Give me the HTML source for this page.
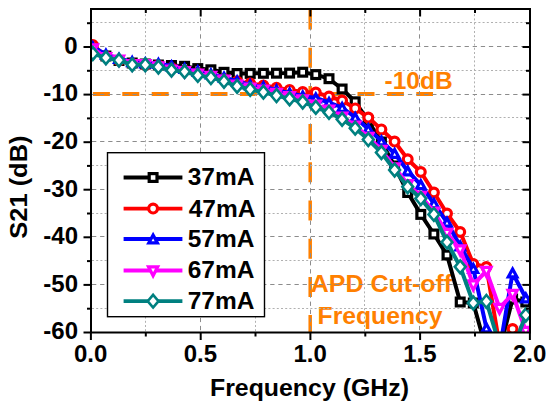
<!DOCTYPE html>
<html><head><meta charset="utf-8"><style>
html,body{margin:0;padding:0;background:#fff;width:550px;height:405px;overflow:hidden}
svg{display:block}
</style></head><body>
<svg width="550" height="405" viewBox="0 0 550 405">
<rect width="550" height="405" fill="#fff"/>
<line x1="92.9" y1="94.1" x2="433" y2="94.1" stroke="#ff8000" stroke-width="4" stroke-dasharray="17,12.4"/>
<line x1="310.2" y1="9.5" x2="310.2" y2="332" stroke="#ff8000" stroke-width="3.5" stroke-dasharray="20,18.2"/>
<text transform="translate(384.58,88.50) scale(1.0200,1)" font-family="Liberation Sans, sans-serif" font-weight="bold" font-size="24" fill="#ff8000">-10dB</text>
<text transform="translate(310.86,291.90) scale(1.0400,1)" font-family="Liberation Sans, sans-serif" font-weight="bold" font-size="24" fill="#ff8000">APD Cut-off</text>
<text transform="translate(317.54,323.60) scale(1.0300,1)" font-family="Liberation Sans, sans-serif" font-weight="bold" font-size="24" fill="#ff8000">Frequency</text>
<line x1="145.5" y1="10.0" x2="145.5" y2="331.5" stroke="#b0b0b0" stroke-width="1" stroke-dasharray="2,2.2"/>
<line x1="200.5" y1="10.0" x2="200.5" y2="331.5" stroke="#8c8c8c" stroke-width="1" stroke-dasharray="4.3,3.8"/>
<line x1="255.5" y1="10.0" x2="255.5" y2="331.5" stroke="#b0b0b0" stroke-width="1" stroke-dasharray="2,2.2"/>
<line x1="310.5" y1="10.0" x2="310.5" y2="331.5" stroke="#8c8c8c" stroke-width="1" stroke-dasharray="4.3,3.8"/>
<line x1="364.5" y1="10.0" x2="364.5" y2="331.5" stroke="#b0b0b0" stroke-width="1" stroke-dasharray="2,2.2"/>
<line x1="419.5" y1="10.0" x2="419.5" y2="331.5" stroke="#8c8c8c" stroke-width="1" stroke-dasharray="4.3,3.8"/>
<line x1="474.5" y1="10.0" x2="474.5" y2="331.5" stroke="#b0b0b0" stroke-width="1" stroke-dasharray="2,2.2"/>
<line x1="92.0" y1="22.5" x2="529.0" y2="22.5" stroke="#b0b0b0" stroke-width="1" stroke-dasharray="2,2.2"/>
<line x1="92.0" y1="46.5" x2="529.0" y2="46.5" stroke="#8c8c8c" stroke-width="1" stroke-dasharray="4.3,3.8"/>
<line x1="92.0" y1="70.5" x2="529.0" y2="70.5" stroke="#b0b0b0" stroke-width="1" stroke-dasharray="2,2.2"/>
<line x1="92.0" y1="94.5" x2="529.0" y2="94.5" stroke="#8c8c8c" stroke-width="1" stroke-dasharray="4.3,3.8"/>
<line x1="92.0" y1="117.5" x2="529.0" y2="117.5" stroke="#b0b0b0" stroke-width="1" stroke-dasharray="2,2.2"/>
<line x1="92.0" y1="141.5" x2="529.0" y2="141.5" stroke="#8c8c8c" stroke-width="1" stroke-dasharray="4.3,3.8"/>
<line x1="92.0" y1="165.5" x2="529.0" y2="165.5" stroke="#b0b0b0" stroke-width="1" stroke-dasharray="2,2.2"/>
<line x1="92.0" y1="189.5" x2="529.0" y2="189.5" stroke="#8c8c8c" stroke-width="1" stroke-dasharray="4.3,3.8"/>
<line x1="92.0" y1="213.5" x2="529.0" y2="213.5" stroke="#b0b0b0" stroke-width="1" stroke-dasharray="2,2.2"/>
<line x1="92.0" y1="236.5" x2="529.0" y2="236.5" stroke="#8c8c8c" stroke-width="1" stroke-dasharray="4.3,3.8"/>
<line x1="92.0" y1="260.5" x2="529.0" y2="260.5" stroke="#b0b0b0" stroke-width="1" stroke-dasharray="2,2.2"/>
<line x1="92.0" y1="284.5" x2="529.0" y2="284.5" stroke="#8c8c8c" stroke-width="1" stroke-dasharray="4.3,3.8"/>
<line x1="92.0" y1="308.5" x2="529.0" y2="308.5" stroke="#b0b0b0" stroke-width="1" stroke-dasharray="2,2.2"/>
<svg x="0" y="0" width="550" height="405" overflow="hidden"><defs><clipPath id="pc"><rect x="91" y="9" width="439" height="323.5"/></clipPath></defs><g clip-path="url(#pc)">
<polyline points="92.8,48.0 105.9,56.0 119.0,60.5 132.2,63.0 145.3,64.0 158.4,65.0 171.5,65.5 184.6,66.3 197.8,68.6 210.9,69.8 224.0,72.3 237.1,73.5 250.2,73.4 263.4,73.3 276.5,73.2 289.6,73.1 302.7,72.2 315.8,74.6 329.0,78.7 342.1,89.0 355.2,101.8 368.3,121.0 381.4,142.0 394.6,166.0 407.7,192.5 420.8,214.4 433.9,234.0 447.0,255.0 460.2,302.0 473.3,303.0 486.4,350.0 499.5,350.0 512.6,299.0 525.8,302.0" fill="none" stroke="#000000" stroke-width="4" stroke-linejoin="round"/>
<rect x="88.9" y="44.1" width="7.8" height="7.8" fill="#fff" stroke="#000000" stroke-width="3.2"/>
<rect x="102.0" y="52.1" width="7.8" height="7.8" fill="#fff" stroke="#000000" stroke-width="3.2"/>
<rect x="115.1" y="56.6" width="7.8" height="7.8" fill="#fff" stroke="#000000" stroke-width="3.2"/>
<rect x="128.3" y="59.1" width="7.8" height="7.8" fill="#fff" stroke="#000000" stroke-width="3.2"/>
<rect x="141.4" y="60.1" width="7.8" height="7.8" fill="#fff" stroke="#000000" stroke-width="3.2"/>
<rect x="154.5" y="61.1" width="7.8" height="7.8" fill="#fff" stroke="#000000" stroke-width="3.2"/>
<rect x="167.6" y="61.6" width="7.8" height="7.8" fill="#fff" stroke="#000000" stroke-width="3.2"/>
<rect x="180.7" y="62.4" width="7.8" height="7.8" fill="#fff" stroke="#000000" stroke-width="3.2"/>
<rect x="193.9" y="64.7" width="7.8" height="7.8" fill="#fff" stroke="#000000" stroke-width="3.2"/>
<rect x="207.0" y="65.9" width="7.8" height="7.8" fill="#fff" stroke="#000000" stroke-width="3.2"/>
<rect x="220.1" y="68.4" width="7.8" height="7.8" fill="#fff" stroke="#000000" stroke-width="3.2"/>
<rect x="233.2" y="69.6" width="7.8" height="7.8" fill="#fff" stroke="#000000" stroke-width="3.2"/>
<rect x="246.3" y="69.5" width="7.8" height="7.8" fill="#fff" stroke="#000000" stroke-width="3.2"/>
<rect x="259.5" y="69.4" width="7.8" height="7.8" fill="#fff" stroke="#000000" stroke-width="3.2"/>
<rect x="272.6" y="69.3" width="7.8" height="7.8" fill="#fff" stroke="#000000" stroke-width="3.2"/>
<rect x="285.7" y="69.2" width="7.8" height="7.8" fill="#fff" stroke="#000000" stroke-width="3.2"/>
<rect x="298.8" y="68.3" width="7.8" height="7.8" fill="#fff" stroke="#000000" stroke-width="3.2"/>
<rect x="311.9" y="70.7" width="7.8" height="7.8" fill="#fff" stroke="#000000" stroke-width="3.2"/>
<rect x="325.1" y="74.8" width="7.8" height="7.8" fill="#fff" stroke="#000000" stroke-width="3.2"/>
<rect x="338.2" y="85.1" width="7.8" height="7.8" fill="#fff" stroke="#000000" stroke-width="3.2"/>
<rect x="351.3" y="97.9" width="7.8" height="7.8" fill="#fff" stroke="#000000" stroke-width="3.2"/>
<rect x="364.4" y="117.1" width="7.8" height="7.8" fill="#fff" stroke="#000000" stroke-width="3.2"/>
<rect x="377.5" y="138.1" width="7.8" height="7.8" fill="#fff" stroke="#000000" stroke-width="3.2"/>
<rect x="390.7" y="162.1" width="7.8" height="7.8" fill="#fff" stroke="#000000" stroke-width="3.2"/>
<rect x="403.8" y="188.6" width="7.8" height="7.8" fill="#fff" stroke="#000000" stroke-width="3.2"/>
<rect x="416.9" y="210.5" width="7.8" height="7.8" fill="#fff" stroke="#000000" stroke-width="3.2"/>
<rect x="430.0" y="230.1" width="7.8" height="7.8" fill="#fff" stroke="#000000" stroke-width="3.2"/>
<rect x="443.1" y="251.1" width="7.8" height="7.8" fill="#fff" stroke="#000000" stroke-width="3.2"/>
<rect x="456.3" y="298.1" width="7.8" height="7.8" fill="#fff" stroke="#000000" stroke-width="3.2"/>
<rect x="469.4" y="299.1" width="7.8" height="7.8" fill="#fff" stroke="#000000" stroke-width="3.2"/>
<rect x="508.7" y="295.1" width="7.8" height="7.8" fill="#fff" stroke="#000000" stroke-width="3.2"/>
<rect x="521.9" y="298.1" width="7.8" height="7.8" fill="#fff" stroke="#000000" stroke-width="3.2"/>
<polyline points="92.8,45.0 105.9,56.3 119.0,60.6 132.2,63.7 145.3,65.0 158.4,65.5 171.5,68.0 184.6,70.6 197.8,73.2 210.9,76.1 224.0,79.3 237.1,81.5 250.2,83.5 263.4,85.4 276.5,87.7 289.6,89.9 302.7,92.0 315.8,92.6 329.0,96.5 342.1,100.5 355.2,108.4 368.3,117.6 381.4,129.4 394.6,141.6 407.7,159.3 420.8,172.0 433.9,192.5 447.0,213.5 460.2,232.0 473.3,264.0 486.4,267.0 499.5,345.0 512.6,329.0 525.8,350.0" fill="none" stroke="#ff0000" stroke-width="4" stroke-linejoin="round"/>
<circle cx="92.8" cy="45.0" r="4.4" fill="#fff" stroke="#ff0000" stroke-width="3.2"/>
<circle cx="105.9" cy="56.3" r="4.4" fill="#fff" stroke="#ff0000" stroke-width="3.2"/>
<circle cx="119.0" cy="60.6" r="4.4" fill="#fff" stroke="#ff0000" stroke-width="3.2"/>
<circle cx="132.2" cy="63.7" r="4.4" fill="#fff" stroke="#ff0000" stroke-width="3.2"/>
<circle cx="145.3" cy="65.0" r="4.4" fill="#fff" stroke="#ff0000" stroke-width="3.2"/>
<circle cx="158.4" cy="65.5" r="4.4" fill="#fff" stroke="#ff0000" stroke-width="3.2"/>
<circle cx="171.5" cy="68.0" r="4.4" fill="#fff" stroke="#ff0000" stroke-width="3.2"/>
<circle cx="184.6" cy="70.6" r="4.4" fill="#fff" stroke="#ff0000" stroke-width="3.2"/>
<circle cx="197.8" cy="73.2" r="4.4" fill="#fff" stroke="#ff0000" stroke-width="3.2"/>
<circle cx="210.9" cy="76.1" r="4.4" fill="#fff" stroke="#ff0000" stroke-width="3.2"/>
<circle cx="224.0" cy="79.3" r="4.4" fill="#fff" stroke="#ff0000" stroke-width="3.2"/>
<circle cx="237.1" cy="81.5" r="4.4" fill="#fff" stroke="#ff0000" stroke-width="3.2"/>
<circle cx="250.2" cy="83.5" r="4.4" fill="#fff" stroke="#ff0000" stroke-width="3.2"/>
<circle cx="263.4" cy="85.4" r="4.4" fill="#fff" stroke="#ff0000" stroke-width="3.2"/>
<circle cx="276.5" cy="87.7" r="4.4" fill="#fff" stroke="#ff0000" stroke-width="3.2"/>
<circle cx="289.6" cy="89.9" r="4.4" fill="#fff" stroke="#ff0000" stroke-width="3.2"/>
<circle cx="302.7" cy="92.0" r="4.4" fill="#fff" stroke="#ff0000" stroke-width="3.2"/>
<circle cx="315.8" cy="92.6" r="4.4" fill="#fff" stroke="#ff0000" stroke-width="3.2"/>
<circle cx="329.0" cy="96.5" r="4.4" fill="#fff" stroke="#ff0000" stroke-width="3.2"/>
<circle cx="342.1" cy="100.5" r="4.4" fill="#fff" stroke="#ff0000" stroke-width="3.2"/>
<circle cx="355.2" cy="108.4" r="4.4" fill="#fff" stroke="#ff0000" stroke-width="3.2"/>
<circle cx="368.3" cy="117.6" r="4.4" fill="#fff" stroke="#ff0000" stroke-width="3.2"/>
<circle cx="381.4" cy="129.4" r="4.4" fill="#fff" stroke="#ff0000" stroke-width="3.2"/>
<circle cx="394.6" cy="141.6" r="4.4" fill="#fff" stroke="#ff0000" stroke-width="3.2"/>
<circle cx="407.7" cy="159.3" r="4.4" fill="#fff" stroke="#ff0000" stroke-width="3.2"/>
<circle cx="420.8" cy="172.0" r="4.4" fill="#fff" stroke="#ff0000" stroke-width="3.2"/>
<circle cx="433.9" cy="192.5" r="4.4" fill="#fff" stroke="#ff0000" stroke-width="3.2"/>
<circle cx="447.0" cy="213.5" r="4.4" fill="#fff" stroke="#ff0000" stroke-width="3.2"/>
<circle cx="460.2" cy="232.0" r="4.4" fill="#fff" stroke="#ff0000" stroke-width="3.2"/>
<circle cx="473.3" cy="264.0" r="4.4" fill="#fff" stroke="#ff0000" stroke-width="3.2"/>
<circle cx="486.4" cy="267.0" r="4.4" fill="#fff" stroke="#ff0000" stroke-width="3.2"/>
<circle cx="512.6" cy="329.0" r="4.4" fill="#fff" stroke="#ff0000" stroke-width="3.2"/>
<polyline points="92.8,47.0 105.9,54.3 119.0,58.6 132.2,61.7 145.3,63.0 158.4,63.5 171.5,66.0 184.6,68.6 197.8,71.2 210.9,74.1 224.0,77.3 237.1,81.1 250.2,84.9 263.4,86.8 276.5,89.9 289.6,93.1 302.7,96.0 315.8,98.0 329.0,102.5 342.1,107.5 355.2,117.5 368.3,129.0 381.4,141.0 394.6,153.5 407.7,171.0 420.8,184.8 433.9,203.6 447.0,222.3 460.2,246.0 473.3,268.5 486.4,328.0 499.5,350.0 512.6,273.0 525.8,298.0" fill="none" stroke="#0000ff" stroke-width="4" stroke-linejoin="round"/>
<path d="M92.8,43.0 L97.1,50.9 L88.5,50.9 Z" fill="#fff" stroke="#0000ff" stroke-width="3.2" stroke-linejoin="miter"/>
<path d="M105.9,50.3 L110.2,58.2 L101.6,58.2 Z" fill="#fff" stroke="#0000ff" stroke-width="3.2" stroke-linejoin="miter"/>
<path d="M119.0,54.6 L123.3,62.5 L114.7,62.5 Z" fill="#fff" stroke="#0000ff" stroke-width="3.2" stroke-linejoin="miter"/>
<path d="M132.2,57.7 L136.5,65.6 L127.9,65.6 Z" fill="#fff" stroke="#0000ff" stroke-width="3.2" stroke-linejoin="miter"/>
<path d="M145.3,59.0 L149.6,66.9 L141.0,66.9 Z" fill="#fff" stroke="#0000ff" stroke-width="3.2" stroke-linejoin="miter"/>
<path d="M158.4,59.5 L162.7,67.4 L154.1,67.4 Z" fill="#fff" stroke="#0000ff" stroke-width="3.2" stroke-linejoin="miter"/>
<path d="M171.5,62.0 L175.8,69.9 L167.2,69.9 Z" fill="#fff" stroke="#0000ff" stroke-width="3.2" stroke-linejoin="miter"/>
<path d="M184.6,64.6 L188.9,72.5 L180.3,72.5 Z" fill="#fff" stroke="#0000ff" stroke-width="3.2" stroke-linejoin="miter"/>
<path d="M197.8,67.2 L202.1,75.1 L193.5,75.1 Z" fill="#fff" stroke="#0000ff" stroke-width="3.2" stroke-linejoin="miter"/>
<path d="M210.9,70.1 L215.2,78.0 L206.6,78.0 Z" fill="#fff" stroke="#0000ff" stroke-width="3.2" stroke-linejoin="miter"/>
<path d="M224.0,73.3 L228.3,81.2 L219.7,81.2 Z" fill="#fff" stroke="#0000ff" stroke-width="3.2" stroke-linejoin="miter"/>
<path d="M237.1,77.1 L241.4,85.0 L232.8,85.0 Z" fill="#fff" stroke="#0000ff" stroke-width="3.2" stroke-linejoin="miter"/>
<path d="M250.2,80.9 L254.5,88.8 L245.9,88.8 Z" fill="#fff" stroke="#0000ff" stroke-width="3.2" stroke-linejoin="miter"/>
<path d="M263.4,82.8 L267.7,90.7 L259.1,90.7 Z" fill="#fff" stroke="#0000ff" stroke-width="3.2" stroke-linejoin="miter"/>
<path d="M276.5,85.9 L280.8,93.8 L272.2,93.8 Z" fill="#fff" stroke="#0000ff" stroke-width="3.2" stroke-linejoin="miter"/>
<path d="M289.6,89.1 L293.9,97.0 L285.3,97.0 Z" fill="#fff" stroke="#0000ff" stroke-width="3.2" stroke-linejoin="miter"/>
<path d="M302.7,92.0 L307.0,99.9 L298.4,99.9 Z" fill="#fff" stroke="#0000ff" stroke-width="3.2" stroke-linejoin="miter"/>
<path d="M315.8,94.0 L320.1,101.9 L311.5,101.9 Z" fill="#fff" stroke="#0000ff" stroke-width="3.2" stroke-linejoin="miter"/>
<path d="M329.0,98.5 L333.3,106.4 L324.7,106.4 Z" fill="#fff" stroke="#0000ff" stroke-width="3.2" stroke-linejoin="miter"/>
<path d="M342.1,103.5 L346.4,111.4 L337.8,111.4 Z" fill="#fff" stroke="#0000ff" stroke-width="3.2" stroke-linejoin="miter"/>
<path d="M355.2,113.5 L359.5,121.4 L350.9,121.4 Z" fill="#fff" stroke="#0000ff" stroke-width="3.2" stroke-linejoin="miter"/>
<path d="M368.3,125.0 L372.6,132.9 L364.0,132.9 Z" fill="#fff" stroke="#0000ff" stroke-width="3.2" stroke-linejoin="miter"/>
<path d="M381.4,137.0 L385.7,144.9 L377.1,144.9 Z" fill="#fff" stroke="#0000ff" stroke-width="3.2" stroke-linejoin="miter"/>
<path d="M394.6,149.5 L398.9,157.4 L390.3,157.4 Z" fill="#fff" stroke="#0000ff" stroke-width="3.2" stroke-linejoin="miter"/>
<path d="M407.7,167.0 L412.0,174.9 L403.4,174.9 Z" fill="#fff" stroke="#0000ff" stroke-width="3.2" stroke-linejoin="miter"/>
<path d="M420.8,180.8 L425.1,188.7 L416.5,188.7 Z" fill="#fff" stroke="#0000ff" stroke-width="3.2" stroke-linejoin="miter"/>
<path d="M433.9,199.6 L438.2,207.5 L429.6,207.5 Z" fill="#fff" stroke="#0000ff" stroke-width="3.2" stroke-linejoin="miter"/>
<path d="M447.0,218.3 L451.3,226.2 L442.7,226.2 Z" fill="#fff" stroke="#0000ff" stroke-width="3.2" stroke-linejoin="miter"/>
<path d="M460.2,242.0 L464.5,249.9 L455.9,249.9 Z" fill="#fff" stroke="#0000ff" stroke-width="3.2" stroke-linejoin="miter"/>
<path d="M473.3,264.5 L477.6,272.4 L469.0,272.4 Z" fill="#fff" stroke="#0000ff" stroke-width="3.2" stroke-linejoin="miter"/>
<path d="M486.4,324.0 L490.7,331.9 L482.1,331.9 Z" fill="#fff" stroke="#0000ff" stroke-width="3.2" stroke-linejoin="miter"/>
<path d="M512.6,269.0 L516.9,276.9 L508.3,276.9 Z" fill="#fff" stroke="#0000ff" stroke-width="3.2" stroke-linejoin="miter"/>
<path d="M525.8,294.0 L530.1,301.9 L521.5,301.9 Z" fill="#fff" stroke="#0000ff" stroke-width="3.2" stroke-linejoin="miter"/>
<polyline points="92.8,48.5 105.9,57.3 119.0,59.7 132.2,64.3 145.3,64.3 158.4,66.5 171.5,69.7 184.6,71.2 197.8,73.9 210.9,76.1 224.0,79.8 237.1,84.8 250.2,87.9 263.4,89.7 276.5,93.1 289.6,96.3 302.7,99.5 315.8,104.9 329.0,109.9 342.1,116.8 355.2,125.7 368.3,137.1 381.4,150.0 394.6,167.5 407.7,184.3 420.8,196.1 433.9,211.9 447.0,233.0 460.2,249.6 473.3,284.6 486.4,271.0 499.5,308.0 512.6,294.0 525.8,331.0" fill="none" stroke="#ff00ff" stroke-width="4" stroke-linejoin="round"/>
<path d="M92.8,53.8 L97.4,44.8 L88.2,44.8 Z" fill="#fff" stroke="#ff00ff" stroke-width="3.2" stroke-linejoin="miter"/>
<path d="M105.9,62.6 L110.5,53.6 L101.3,53.6 Z" fill="#fff" stroke="#ff00ff" stroke-width="3.2" stroke-linejoin="miter"/>
<path d="M119.0,65.0 L123.6,56.0 L114.4,56.0 Z" fill="#fff" stroke="#ff00ff" stroke-width="3.2" stroke-linejoin="miter"/>
<path d="M132.2,69.6 L136.8,60.6 L127.6,60.6 Z" fill="#fff" stroke="#ff00ff" stroke-width="3.2" stroke-linejoin="miter"/>
<path d="M145.3,69.6 L149.9,60.6 L140.7,60.6 Z" fill="#fff" stroke="#ff00ff" stroke-width="3.2" stroke-linejoin="miter"/>
<path d="M158.4,71.8 L163.0,62.8 L153.8,62.8 Z" fill="#fff" stroke="#ff00ff" stroke-width="3.2" stroke-linejoin="miter"/>
<path d="M171.5,75.0 L176.1,66.0 L166.9,66.0 Z" fill="#fff" stroke="#ff00ff" stroke-width="3.2" stroke-linejoin="miter"/>
<path d="M184.6,76.5 L189.2,67.5 L180.0,67.5 Z" fill="#fff" stroke="#ff00ff" stroke-width="3.2" stroke-linejoin="miter"/>
<path d="M197.8,79.2 L202.4,70.2 L193.2,70.2 Z" fill="#fff" stroke="#ff00ff" stroke-width="3.2" stroke-linejoin="miter"/>
<path d="M210.9,81.4 L215.5,72.4 L206.3,72.4 Z" fill="#fff" stroke="#ff00ff" stroke-width="3.2" stroke-linejoin="miter"/>
<path d="M224.0,85.1 L228.6,76.1 L219.4,76.1 Z" fill="#fff" stroke="#ff00ff" stroke-width="3.2" stroke-linejoin="miter"/>
<path d="M237.1,90.1 L241.7,81.1 L232.5,81.1 Z" fill="#fff" stroke="#ff00ff" stroke-width="3.2" stroke-linejoin="miter"/>
<path d="M250.2,93.2 L254.8,84.2 L245.6,84.2 Z" fill="#fff" stroke="#ff00ff" stroke-width="3.2" stroke-linejoin="miter"/>
<path d="M263.4,95.0 L268.0,86.0 L258.8,86.0 Z" fill="#fff" stroke="#ff00ff" stroke-width="3.2" stroke-linejoin="miter"/>
<path d="M276.5,98.4 L281.1,89.4 L271.9,89.4 Z" fill="#fff" stroke="#ff00ff" stroke-width="3.2" stroke-linejoin="miter"/>
<path d="M289.6,101.6 L294.2,92.6 L285.0,92.6 Z" fill="#fff" stroke="#ff00ff" stroke-width="3.2" stroke-linejoin="miter"/>
<path d="M302.7,104.8 L307.3,95.8 L298.1,95.8 Z" fill="#fff" stroke="#ff00ff" stroke-width="3.2" stroke-linejoin="miter"/>
<path d="M315.8,110.2 L320.4,101.2 L311.2,101.2 Z" fill="#fff" stroke="#ff00ff" stroke-width="3.2" stroke-linejoin="miter"/>
<path d="M329.0,115.2 L333.6,106.2 L324.4,106.2 Z" fill="#fff" stroke="#ff00ff" stroke-width="3.2" stroke-linejoin="miter"/>
<path d="M342.1,122.1 L346.7,113.1 L337.5,113.1 Z" fill="#fff" stroke="#ff00ff" stroke-width="3.2" stroke-linejoin="miter"/>
<path d="M355.2,131.0 L359.8,122.0 L350.6,122.0 Z" fill="#fff" stroke="#ff00ff" stroke-width="3.2" stroke-linejoin="miter"/>
<path d="M368.3,142.4 L372.9,133.4 L363.7,133.4 Z" fill="#fff" stroke="#ff00ff" stroke-width="3.2" stroke-linejoin="miter"/>
<path d="M381.4,155.3 L386.0,146.3 L376.8,146.3 Z" fill="#fff" stroke="#ff00ff" stroke-width="3.2" stroke-linejoin="miter"/>
<path d="M394.6,172.8 L399.2,163.8 L390.0,163.8 Z" fill="#fff" stroke="#ff00ff" stroke-width="3.2" stroke-linejoin="miter"/>
<path d="M407.7,189.6 L412.3,180.6 L403.1,180.6 Z" fill="#fff" stroke="#ff00ff" stroke-width="3.2" stroke-linejoin="miter"/>
<path d="M420.8,201.4 L425.4,192.4 L416.2,192.4 Z" fill="#fff" stroke="#ff00ff" stroke-width="3.2" stroke-linejoin="miter"/>
<path d="M433.9,217.2 L438.5,208.2 L429.3,208.2 Z" fill="#fff" stroke="#ff00ff" stroke-width="3.2" stroke-linejoin="miter"/>
<path d="M447.0,238.3 L451.6,229.3 L442.4,229.3 Z" fill="#fff" stroke="#ff00ff" stroke-width="3.2" stroke-linejoin="miter"/>
<path d="M460.2,254.9 L464.8,245.9 L455.6,245.9 Z" fill="#fff" stroke="#ff00ff" stroke-width="3.2" stroke-linejoin="miter"/>
<path d="M473.3,289.9 L477.9,280.9 L468.7,280.9 Z" fill="#fff" stroke="#ff00ff" stroke-width="3.2" stroke-linejoin="miter"/>
<path d="M486.4,276.3 L491.0,267.3 L481.8,267.3 Z" fill="#fff" stroke="#ff00ff" stroke-width="3.2" stroke-linejoin="miter"/>
<path d="M499.5,313.3 L504.1,304.3 L494.9,304.3 Z" fill="#fff" stroke="#ff00ff" stroke-width="3.2" stroke-linejoin="miter"/>
<path d="M512.6,299.3 L517.2,290.3 L508.0,290.3 Z" fill="#fff" stroke="#ff00ff" stroke-width="3.2" stroke-linejoin="miter"/>
<path d="M525.8,336.3 L530.4,327.3 L521.2,327.3 Z" fill="#fff" stroke="#ff00ff" stroke-width="3.2" stroke-linejoin="miter"/>
<polyline points="92.8,53.5 105.9,57.8 119.0,60.2 132.2,64.8 145.3,64.8 158.4,67.0 171.5,70.2 184.6,71.7 197.8,75.4 210.9,77.6 224.0,81.3 237.1,86.3 250.2,89.4 263.4,92.2 276.5,95.6 289.6,98.8 302.7,102.0 315.8,107.4 329.0,112.4 342.1,119.3 355.2,128.2 368.3,139.6 381.4,152.5 394.6,170.0 407.7,186.8 420.8,198.6 433.9,214.4 447.0,242.2 460.2,266.8 473.3,303.0 486.4,301.4 499.5,345.0 512.6,350.0 525.8,315.0" fill="none" stroke="#008080" stroke-width="4" stroke-linejoin="round"/>
<path d="M92.8,47.1 L98.2,53.5 L92.8,59.9 L87.4,53.5 Z" fill="#fff" stroke="#008080" stroke-width="2.6" stroke-linejoin="miter"/>
<path d="M105.9,51.4 L111.3,57.8 L105.9,64.2 L100.5,57.8 Z" fill="#fff" stroke="#008080" stroke-width="2.6" stroke-linejoin="miter"/>
<path d="M119.0,53.8 L124.4,60.2 L119.0,66.6 L113.6,60.2 Z" fill="#fff" stroke="#008080" stroke-width="2.6" stroke-linejoin="miter"/>
<path d="M132.2,58.4 L137.6,64.8 L132.2,71.2 L126.8,64.8 Z" fill="#fff" stroke="#008080" stroke-width="2.6" stroke-linejoin="miter"/>
<path d="M145.3,58.4 L150.7,64.8 L145.3,71.2 L139.9,64.8 Z" fill="#fff" stroke="#008080" stroke-width="2.6" stroke-linejoin="miter"/>
<path d="M158.4,60.6 L163.8,67.0 L158.4,73.4 L153.0,67.0 Z" fill="#fff" stroke="#008080" stroke-width="2.6" stroke-linejoin="miter"/>
<path d="M171.5,63.8 L176.9,70.2 L171.5,76.6 L166.1,70.2 Z" fill="#fff" stroke="#008080" stroke-width="2.6" stroke-linejoin="miter"/>
<path d="M184.6,65.3 L190.0,71.7 L184.6,78.1 L179.2,71.7 Z" fill="#fff" stroke="#008080" stroke-width="2.6" stroke-linejoin="miter"/>
<path d="M197.8,69.0 L203.2,75.4 L197.8,81.8 L192.4,75.4 Z" fill="#fff" stroke="#008080" stroke-width="2.6" stroke-linejoin="miter"/>
<path d="M210.9,71.2 L216.3,77.6 L210.9,84.0 L205.5,77.6 Z" fill="#fff" stroke="#008080" stroke-width="2.6" stroke-linejoin="miter"/>
<path d="M224.0,74.9 L229.4,81.3 L224.0,87.7 L218.6,81.3 Z" fill="#fff" stroke="#008080" stroke-width="2.6" stroke-linejoin="miter"/>
<path d="M237.1,79.9 L242.5,86.3 L237.1,92.7 L231.7,86.3 Z" fill="#fff" stroke="#008080" stroke-width="2.6" stroke-linejoin="miter"/>
<path d="M250.2,83.0 L255.6,89.4 L250.2,95.8 L244.8,89.4 Z" fill="#fff" stroke="#008080" stroke-width="2.6" stroke-linejoin="miter"/>
<path d="M263.4,85.8 L268.8,92.2 L263.4,98.6 L258.0,92.2 Z" fill="#fff" stroke="#008080" stroke-width="2.6" stroke-linejoin="miter"/>
<path d="M276.5,89.2 L281.9,95.6 L276.5,102.0 L271.1,95.6 Z" fill="#fff" stroke="#008080" stroke-width="2.6" stroke-linejoin="miter"/>
<path d="M289.6,92.4 L295.0,98.8 L289.6,105.2 L284.2,98.8 Z" fill="#fff" stroke="#008080" stroke-width="2.6" stroke-linejoin="miter"/>
<path d="M302.7,95.6 L308.1,102.0 L302.7,108.4 L297.3,102.0 Z" fill="#fff" stroke="#008080" stroke-width="2.6" stroke-linejoin="miter"/>
<path d="M315.8,101.0 L321.2,107.4 L315.8,113.8 L310.4,107.4 Z" fill="#fff" stroke="#008080" stroke-width="2.6" stroke-linejoin="miter"/>
<path d="M329.0,106.0 L334.4,112.4 L329.0,118.8 L323.6,112.4 Z" fill="#fff" stroke="#008080" stroke-width="2.6" stroke-linejoin="miter"/>
<path d="M342.1,112.9 L347.5,119.3 L342.1,125.7 L336.7,119.3 Z" fill="#fff" stroke="#008080" stroke-width="2.6" stroke-linejoin="miter"/>
<path d="M355.2,121.8 L360.6,128.2 L355.2,134.6 L349.8,128.2 Z" fill="#fff" stroke="#008080" stroke-width="2.6" stroke-linejoin="miter"/>
<path d="M368.3,133.2 L373.7,139.6 L368.3,146.0 L362.9,139.6 Z" fill="#fff" stroke="#008080" stroke-width="2.6" stroke-linejoin="miter"/>
<path d="M381.4,146.1 L386.8,152.5 L381.4,158.9 L376.0,152.5 Z" fill="#fff" stroke="#008080" stroke-width="2.6" stroke-linejoin="miter"/>
<path d="M394.6,163.6 L400.0,170.0 L394.6,176.4 L389.2,170.0 Z" fill="#fff" stroke="#008080" stroke-width="2.6" stroke-linejoin="miter"/>
<path d="M407.7,180.4 L413.1,186.8 L407.7,193.2 L402.3,186.8 Z" fill="#fff" stroke="#008080" stroke-width="2.6" stroke-linejoin="miter"/>
<path d="M420.8,192.2 L426.2,198.6 L420.8,205.0 L415.4,198.6 Z" fill="#fff" stroke="#008080" stroke-width="2.6" stroke-linejoin="miter"/>
<path d="M433.9,208.0 L439.3,214.4 L433.9,220.8 L428.5,214.4 Z" fill="#fff" stroke="#008080" stroke-width="2.6" stroke-linejoin="miter"/>
<path d="M447.0,235.8 L452.4,242.2 L447.0,248.6 L441.6,242.2 Z" fill="#fff" stroke="#008080" stroke-width="2.6" stroke-linejoin="miter"/>
<path d="M460.2,260.4 L465.6,266.8 L460.2,273.2 L454.8,266.8 Z" fill="#fff" stroke="#008080" stroke-width="2.6" stroke-linejoin="miter"/>
<path d="M473.3,296.6 L478.7,303.0 L473.3,309.4 L467.9,303.0 Z" fill="#fff" stroke="#008080" stroke-width="2.6" stroke-linejoin="miter"/>
<path d="M486.4,295.0 L491.8,301.4 L486.4,307.8 L481.0,301.4 Z" fill="#fff" stroke="#008080" stroke-width="2.6" stroke-linejoin="miter"/>
<path d="M525.8,308.6 L531.2,315.0 L525.8,321.4 L520.4,315.0 Z" fill="#fff" stroke="#008080" stroke-width="2.6" stroke-linejoin="miter"/>
</g></svg>
<rect x="91" y="9" width="439" height="323.5" fill="none" stroke="#000" stroke-width="2"/>
<line x1="90.9" y1="332.5" x2="90.9" y2="340.0" stroke="#000" stroke-width="2"/>
<line x1="145.8" y1="332.5" x2="145.8" y2="336.5" stroke="#000" stroke-width="2"/>
<line x1="145.8" y1="9.0" x2="145.8" y2="13.0" stroke="#000" stroke-width="2"/>
<line x1="200.7" y1="332.5" x2="200.7" y2="340.0" stroke="#000" stroke-width="2"/>
<line x1="200.7" y1="9.0" x2="200.7" y2="16.5" stroke="#000" stroke-width="2"/>
<line x1="255.5" y1="332.5" x2="255.5" y2="336.5" stroke="#000" stroke-width="2"/>
<line x1="255.5" y1="9.0" x2="255.5" y2="13.0" stroke="#000" stroke-width="2"/>
<line x1="310.4" y1="332.5" x2="310.4" y2="340.0" stroke="#000" stroke-width="2"/>
<line x1="310.4" y1="9.0" x2="310.4" y2="16.5" stroke="#000" stroke-width="2"/>
<line x1="365.3" y1="332.5" x2="365.3" y2="336.5" stroke="#000" stroke-width="2"/>
<line x1="365.3" y1="9.0" x2="365.3" y2="13.0" stroke="#000" stroke-width="2"/>
<line x1="420.1" y1="332.5" x2="420.1" y2="340.0" stroke="#000" stroke-width="2"/>
<line x1="420.1" y1="9.0" x2="420.1" y2="16.5" stroke="#000" stroke-width="2"/>
<line x1="475.0" y1="332.5" x2="475.0" y2="336.5" stroke="#000" stroke-width="2"/>
<line x1="475.0" y1="9.0" x2="475.0" y2="13.0" stroke="#000" stroke-width="2"/>
<line x1="529.9" y1="332.5" x2="529.9" y2="340.0" stroke="#000" stroke-width="2"/>
<line x1="87.0" y1="23.2" x2="91.0" y2="23.2" stroke="#000" stroke-width="2"/>
<line x1="526.0" y1="23.2" x2="530.0" y2="23.2" stroke="#000" stroke-width="2"/>
<line x1="83.5" y1="47.0" x2="91.0" y2="47.0" stroke="#000" stroke-width="2"/>
<line x1="522.5" y1="47.0" x2="530.0" y2="47.0" stroke="#000" stroke-width="2"/>
<line x1="87.0" y1="70.8" x2="91.0" y2="70.8" stroke="#000" stroke-width="2"/>
<line x1="526.0" y1="70.8" x2="530.0" y2="70.8" stroke="#000" stroke-width="2"/>
<line x1="83.5" y1="94.6" x2="91.0" y2="94.6" stroke="#000" stroke-width="2"/>
<line x1="522.5" y1="94.6" x2="530.0" y2="94.6" stroke="#000" stroke-width="2"/>
<line x1="87.0" y1="118.4" x2="91.0" y2="118.4" stroke="#000" stroke-width="2"/>
<line x1="526.0" y1="118.4" x2="530.0" y2="118.4" stroke="#000" stroke-width="2"/>
<line x1="83.5" y1="142.2" x2="91.0" y2="142.2" stroke="#000" stroke-width="2"/>
<line x1="522.5" y1="142.2" x2="530.0" y2="142.2" stroke="#000" stroke-width="2"/>
<line x1="87.0" y1="165.9" x2="91.0" y2="165.9" stroke="#000" stroke-width="2"/>
<line x1="526.0" y1="165.9" x2="530.0" y2="165.9" stroke="#000" stroke-width="2"/>
<line x1="83.5" y1="189.7" x2="91.0" y2="189.7" stroke="#000" stroke-width="2"/>
<line x1="522.5" y1="189.7" x2="530.0" y2="189.7" stroke="#000" stroke-width="2"/>
<line x1="87.0" y1="213.5" x2="91.0" y2="213.5" stroke="#000" stroke-width="2"/>
<line x1="526.0" y1="213.5" x2="530.0" y2="213.5" stroke="#000" stroke-width="2"/>
<line x1="83.5" y1="237.3" x2="91.0" y2="237.3" stroke="#000" stroke-width="2"/>
<line x1="522.5" y1="237.3" x2="530.0" y2="237.3" stroke="#000" stroke-width="2"/>
<line x1="87.0" y1="261.1" x2="91.0" y2="261.1" stroke="#000" stroke-width="2"/>
<line x1="526.0" y1="261.1" x2="530.0" y2="261.1" stroke="#000" stroke-width="2"/>
<line x1="83.5" y1="284.9" x2="91.0" y2="284.9" stroke="#000" stroke-width="2"/>
<line x1="522.5" y1="284.9" x2="530.0" y2="284.9" stroke="#000" stroke-width="2"/>
<line x1="87.0" y1="308.7" x2="91.0" y2="308.7" stroke="#000" stroke-width="2"/>
<line x1="526.0" y1="308.7" x2="530.0" y2="308.7" stroke="#000" stroke-width="2"/>
<line x1="83.5" y1="332.5" x2="91.0" y2="332.5" stroke="#000" stroke-width="2"/>
<text transform="translate(74.00,362.30) scale(1.0000,1)" font-family="Liberation Sans, sans-serif" font-weight="bold" font-size="24" fill="#000">0.0</text>
<text transform="translate(183.75,362.30) scale(1.0000,1)" font-family="Liberation Sans, sans-serif" font-weight="bold" font-size="24" fill="#000">0.5</text>
<text transform="translate(293.50,362.30) scale(1.0000,1)" font-family="Liberation Sans, sans-serif" font-weight="bold" font-size="24" fill="#000">1.0</text>
<text transform="translate(403.25,362.30) scale(1.0000,1)" font-family="Liberation Sans, sans-serif" font-weight="bold" font-size="24" fill="#000">1.5</text>
<text transform="translate(513.00,362.30) scale(1.0000,1)" font-family="Liberation Sans, sans-serif" font-weight="bold" font-size="24" fill="#000">2.0</text>
<text transform="translate(64.30,53.80) scale(1.0000,1)" font-family="Liberation Sans, sans-serif" font-weight="bold" font-size="24" fill="#000">0</text>
<text transform="translate(43.30,101.38) scale(1.0000,1)" font-family="Liberation Sans, sans-serif" font-weight="bold" font-size="24" fill="#000">-10</text>
<text transform="translate(43.30,148.96) scale(1.0000,1)" font-family="Liberation Sans, sans-serif" font-weight="bold" font-size="24" fill="#000">-20</text>
<text transform="translate(43.30,196.54) scale(1.0000,1)" font-family="Liberation Sans, sans-serif" font-weight="bold" font-size="24" fill="#000">-30</text>
<text transform="translate(43.30,244.12) scale(1.0000,1)" font-family="Liberation Sans, sans-serif" font-weight="bold" font-size="24" fill="#000">-40</text>
<text transform="translate(43.30,291.70) scale(1.0000,1)" font-family="Liberation Sans, sans-serif" font-weight="bold" font-size="24" fill="#000">-50</text>
<text transform="translate(43.30,339.28) scale(1.0000,1)" font-family="Liberation Sans, sans-serif" font-weight="bold" font-size="24" fill="#000">-60</text>
<text transform="translate(209.93,395.60) scale(1.0370,1)" font-family="Liberation Sans, sans-serif" font-weight="bold" font-size="24" fill="#000">Frequency (GHz)</text>
<text transform="translate(26.8,238.66) rotate(-90) scale(1.0600,1)" font-family="Liberation Sans, sans-serif" font-weight="bold" font-size="24" fill="#000">S21 (dB)</text>
<rect x="107.5" y="152.7" width="157" height="164" fill="#fff" stroke="#000" stroke-width="1.4"/>
<line x1="123.6" y1="177.5" x2="182.4" y2="177.5" stroke="#000000" stroke-width="3.8"/>
<rect x="149.2" y="173.6" width="7.8" height="7.8" fill="#fff" stroke="#000000" stroke-width="3.2"/>
<text transform="translate(187.68,185.40) scale(1.0200,1)" font-family="Liberation Sans, sans-serif" font-weight="bold" font-size="24" fill="#000">37mA</text>
<line x1="123.6" y1="208.6" x2="182.4" y2="208.6" stroke="#ff0000" stroke-width="3.8"/>
<circle cx="153.1" cy="208.6" r="4.4" fill="#fff" stroke="#ff0000" stroke-width="3.2"/>
<text transform="translate(188.70,216.50) scale(1.0200,1)" font-family="Liberation Sans, sans-serif" font-weight="bold" font-size="24" fill="#000">47mA</text>
<line x1="123.6" y1="239.0" x2="182.4" y2="239.0" stroke="#0000ff" stroke-width="3.8"/>
<path d="M153.1,235.0 L157.4,242.9 L148.8,242.9 Z" fill="#fff" stroke="#0000ff" stroke-width="3.2" stroke-linejoin="miter"/>
<text transform="translate(187.68,246.90) scale(1.0200,1)" font-family="Liberation Sans, sans-serif" font-weight="bold" font-size="24" fill="#000">57mA</text>
<line x1="123.6" y1="270.5" x2="182.4" y2="270.5" stroke="#ff00ff" stroke-width="3.8"/>
<path d="M153.1,275.8 L157.7,266.8 L148.5,266.8 Z" fill="#fff" stroke="#ff00ff" stroke-width="3.2" stroke-linejoin="miter"/>
<text transform="translate(187.68,278.40) scale(1.0200,1)" font-family="Liberation Sans, sans-serif" font-weight="bold" font-size="24" fill="#000">67mA</text>
<line x1="123.6" y1="301.2" x2="182.4" y2="301.2" stroke="#008080" stroke-width="3.8"/>
<path d="M153.1,294.8 L158.5,301.2 L153.1,307.6 L147.7,301.2 Z" fill="#fff" stroke="#008080" stroke-width="2.6" stroke-linejoin="miter"/>
<text transform="translate(187.68,309.10) scale(1.0200,1)" font-family="Liberation Sans, sans-serif" font-weight="bold" font-size="24" fill="#000">77mA</text>
</svg>
</body></html>
